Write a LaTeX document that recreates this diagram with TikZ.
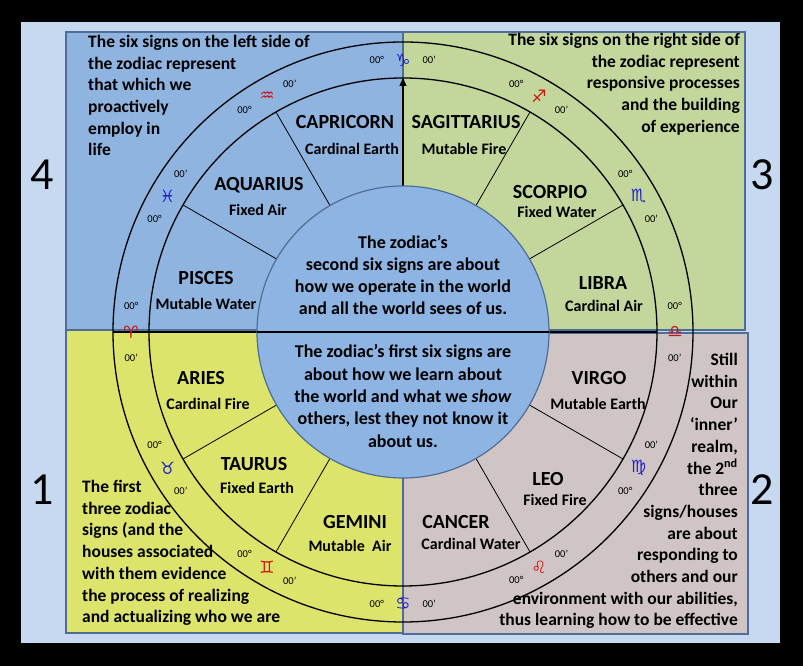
\documentclass[tikz,border=0pt]{standalone}
\usepackage{fontspec}
\setmainfont{Carlito}
\newfontfamily\symf{DejaVu Sans}
\usetikzlibrary{arrows.meta,calc}
\definecolor{bgblue}{HTML}{C6D9F1}
\definecolor{qtl}{HTML}{8FB4E0}
\definecolor{qtr}{HTML}{C3D69B}
\definecolor{qbl}{HTML}{DCE46B}
\definecolor{qbr}{HTML}{D0C5C5}
\definecolor{cfill}{HTML}{8DB4E2}
\definecolor{qline}{HTML}{4F6E97}
\definecolor{gblue}{HTML}{2020C8}
\definecolor{gred}{HTML}{D01010}
\begin{document}
\begin{tikzpicture}[x=1pt,y=1pt,
  quad/.style={draw=qline,line width=1.2pt},
  sign/.style={font=\bfseries\fontsize{20}{21}\selectfont,inner sep=0},
  sub/.style={font=\bfseries\fontsize{16}{17}\selectfont,inner sep=0},
  para/.style={font=\bfseries\fontsize{17.5}{21.7}\selectfont,inner sep=0},
  ctr/.style={font=\bfseries\fontsize{18}{22.3}\selectfont,inner sep=0,align=center},
  num/.style={font=\fontsize{46}{46}\selectfont,inner sep=0},
  deg/.style={font=\fontsize{10.5}{10.5}\selectfont,inner sep=0},
  glyph/.style={font=\symf\fontsize{17}{17}\selectfont\bfseries,inner sep=0}]
\fill[black] (0,0) rectangle (803,666);
\useasboundingbox (0,0) rectangle (803,666);
\fill[bgblue] (21,23) rectangle (780,644);
\fill[qtl] (66,336) rectangle (403,634);
\fill[qtr] (403,336) rectangle (745,634);
\fill[qbl] (66,33) rectangle (403,336);
\fill[qbr] (403,32) rectangle (748,333);
\draw[quad] (66,336) rectangle (403,634);
\draw[quad] (403,336) rectangle (745,634);
\draw[quad] (66,33) rectangle (403,336);
\draw[quad] (403,32) rectangle (748,333);
\coordinate (C) at (403,334);
\draw[line width=1.3pt] (C) circle (290);
\draw[line width=1.3pt] (C) circle (254);
\foreach \a in {30,60,120,150,210,240,300,330}
  \draw[line width=0.8pt] ($(C)+(\a:146)$) -- ($(C)+(\a:254)$);
\draw[line width=1.8pt] ($(C)+(180:290)$) -- ($(C)+(0:254)$);
\draw[line width=1.3pt,-{Triangle[length=8pt,width=7pt]}] (C) -- ($(C)+(90:254)$);
\draw[line width=1.2pt,draw=qline,fill=cfill] (C) circle (146);
\draw[line width=1.8pt] ($(C)+(180:146)$) -- ($(C)+(0:146)$);
% glyphs
\foreach \a/\g/\c in {90/♑/gblue,120/♒/gred,150/♓/gblue,0/♎/gred,30/♏/gblue,60/♐/gred}{
  \node[glyph,text=\c] (g\a) at ($(C)+(\a:272)$) {\g};
  \node[deg] (d\a) at ($(C)+(\a+5.5:273)$) {00°};
  \node[deg] (m\a) at ($(C)+(\a-5.5:273)$) {00'};}
\foreach \a/\g/\c in {180/♈/gred,210/♉/gblue,240/♊/gred,270/♋/gblue,300/♌/gred,330/♍/gblue}{
  \node[glyph,text=\c] (g\a) at ($(C)+(\a:272)$) {\g};
  \node[deg] (d\a) at ($(C)+(\a-5.5:273)$) {00°};
  \node[deg] (m\a) at ($(C)+(\a+5.5:273)$) {00'};}
% signs
\node[sign] (capn) at (345,544) {CAPRICORN}; \node[sub] (caps) at (352,517) {Cardinal Earth};
\node[sign] (sagn) at (466,544) {SAGITTARIUS}; \node[sub] (sags) at (464,517) {Mutable Fire};
\node[sign] (aqun) at (259,481) {AQUARIUS}; \node[sub] (aqus) at (258,456) {Fixed Air};
\node[sign] (scon) at (550,474) {SCORPIO}; \node[sub] (scos) at (557,454) {Fixed Water};
\node[sign] (pisn) at (206,388) {PISCES}; \node[sub] (piss) at (206,362) {Mutable Water};
\node[sign] (libn) at (603,383) {LIBRA}; \node[sub] (libs) at (604,360) {Cardinal Air};
\node[sign] (arin) at (201,288) {ARIES}; \node[sub] (aris) at (208,262) {Cardinal Fire};
\node[sign] (virn) at (599,288) {VIRGO}; \node[sub] (virs) at (598,262) {Mutable Earth};
\node[sign] (taun) at (254,202) {TAURUS}; \node[sub] (taus) at (257,178) {Fixed Earth};
\node[sign] (leon) at (548,187) {LEO}; \node[sub] (leos) at (555,166) {Fixed Fire};
\node[sign] (gemn) at (355,144) {GEMINI}; \node[sub] (gems) at (350,120) {Mutable\ \ Air};
\node[sign] (cann) at (456,144) {CANCER}; \node[sub] (cans) at (471,122) {Cardinal Water};
% center
\node[ctr] (ct) at (403,391) {The zodiac’s\\second six signs are about\\how we operate in the world\\and all the world sees of us.};
\node[ctr] (cb) at (403,270) {The zodiac’s first six signs are\\about how we learn about\\the world and what we \textit{show}\\others, lest they not know it\\about us.};
% corners
\node[para,anchor=north west,align=left] (tl) at (88,631) {The six signs on the left side of\\the zodiac represent\\that which we\\proactively\\employ in\\life};
\node[para,anchor=north east,align=right] (tr) at (740,633) {The six signs on the right side of\\the zodiac represent\\responsive processes\\and the building\\of experience};
\node[para,anchor=north west,align=left] (bl) at (82,186) {The first\\three zodiac\\signs (and the\\houses associated\\with them evidence\\the process of realizing\\and actualizing who we are};
\node[para,anchor=north east,align=right] (br) at (738,313) {Still\\within\\Our\\‘inner’\\realm,\\the 2\textsuperscript{nd}\\three\\signs/houses\\are about\\responding to\\others and our\\environment with our abilities,\\thus learning how to be effective};
\node[num] (n4) at (42,491) {4};
\node[num] (n3) at (762,491) {3};
\node[num] (n1) at (42,176) {1};
\node[num] (n2) at (762,176) {2};
\end{tikzpicture}
\end{document}
